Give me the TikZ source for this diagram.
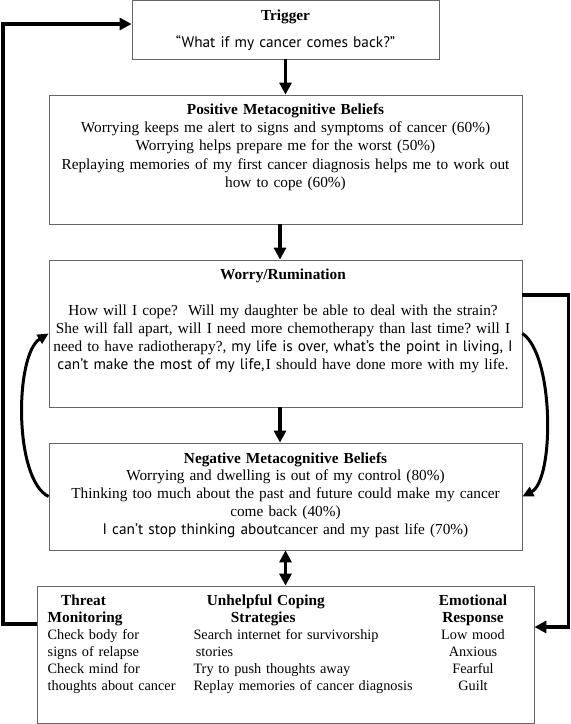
\documentclass[tikz,border=0pt]{standalone}
\usepackage{fontspec}
\setmainfont{Liberation Serif}
\newfontfamily\sansf{PT Sans}
\usetikzlibrary{arrows.meta}
\newcommand{\hdfont}{\fontsize{15.3}{16.9}\selectfont\bfseries}
\begin{document}
\frenchspacing
\begin{tikzpicture}[x=1pt,y=-1pt,
  box/.style={draw=black!60, line width=0.8pt, rectangle, inner sep=0pt},
  txt/.style={inner sep=0pt, text width=520pt, align=center, anchor=base, font=\fontsize{15.3}{18.1}\selectfont},
  coltxt/.style={inner sep=0pt, font=\fontsize{14.3}{16.9}\selectfont},
  arr/.style={line width=3.3pt, -{Triangle[length=12pt,width=12pt]}},
  arrboth/.style={line width=3.3pt, {Triangle[length=12pt,width=12pt]}-{Triangle[length=12pt,width=12pt]}},
  carr/.style={line width=3pt, -{Triangle[length=11pt,width=10pt]}},
]
\useasboundingbox (0,0) rectangle (571,724);
% boxes
\node[box, minimum width=307pt, minimum height=59pt] (trig) at (285.5,29.5) {};
\node[box, minimum width=473pt, minimum height=129pt] (pos) at (285.5,159.5) {};
\node[box, minimum width=473pt, minimum height=147pt] (wor) at (285.5,333.5) {};
\node[box, minimum width=473pt, minimum height=107pt] (neg) at (285.5,496.5) {};
\node[box, minimum width=497pt, minimum height=137pt] (bot) at (285.5,654.5) {};
% texts
\node[txt] (trigT) at (285.5,20) {\textbf{Trigger}\\[9.6pt]{\sansf “What if my cancer comes back?”}};
\node[txt] (posT) at (285.5,114.7) {\textbf{Positive Metacognitive Beliefs}\\Worrying keeps me alert to signs and symptoms of cancer (60\%)\\Worrying helps prepare me for the worst (50\%)\\Replaying memories of my first cancer diagnosis helps me to work out\\how to cope (60\%)};
\node[txt, font=\fontsize{15.3}{18}\selectfont] (worT) at (283,279.3) {\textbf{Worry/Rumination}\\[17.7pt]How will I cope?\ \ Will my daughter be able to deal with the strain?\\She will fall apart, will I need more chemotherapy than last time? will I\\need to have radiotherapy?,{\sansf{} my life is over, what’s the point in living, I}\\{\sansf can’t make the most of my life,}\hspace{1.5pt}I should have done more with my life.};
\node[txt, font=\fontsize{15.3}{17.9}\selectfont] (negT) at (285.5,463) {\textbf{Negative Metacognitive Beliefs}\\Worrying and dwelling is out of my control (80\%)\\Thinking too much about the past and future could make my cancer\\come back (40\%)\\{\sansf I can’t stop thinking about}cancer and my past life (70\%)};
\node[coltxt, text width=140pt, align=left, anchor=base west] (thrT) at (47.5,605.5) {{\hdfont\hspace*{13.5pt}Threat}\\{\hdfont Monitoring}\\Check body for\\signs of relapse\\Check mind for\\thoughts about cancer};
\node[coltxt, text width=230pt, align=left, anchor=base west] (copT) at (193.3,605.5) {{\hdfont\hspace*{13.4pt}Unhelpful Coping}\\{\hdfont\hspace*{37.4pt}Strategies}\\Search internet for survivorship\\\hspace*{2.4pt}stories\\Try to push thoughts away\\Replay memories of cancer diagnosis};
\node[coltxt, text width=100pt, align=center, anchor=base] (emoT) at (473,605.5) {{\hdfont Emotional}\\{\hdfont Response}\\Low mood\\Anxious\\Fearful\\Guilt};
% connectors
\draw[arr] (trig) -- (pos);
\draw[arr] ([xshift=-5.5pt]pos.south) -- ([xshift=-5.5pt]wor.north);
\draw[arr] ([xshift=-5.5pt]wor.south) -- ([xshift=-5.5pt]neg.north);
\draw[arrboth] (neg) -- (bot);
\draw[arr] ([yshift=30.5pt]bot.west) -- ++(-33.5,0) |- ([yshift=5.5pt]trig.west);
\draw[arr] ([yshift=38.5pt]wor.east) -- ++(46,0) |- ([yshift=27.5pt]bot.east);
\draw[carr] (neg.west) .. controls +(-35,-17) and +(-34,21) .. (wor.west);
\draw[carr] (wor.east) .. controls +(32,21.5) and +(32,-16.5) .. (neg.east);
\end{tikzpicture}
\end{document}
